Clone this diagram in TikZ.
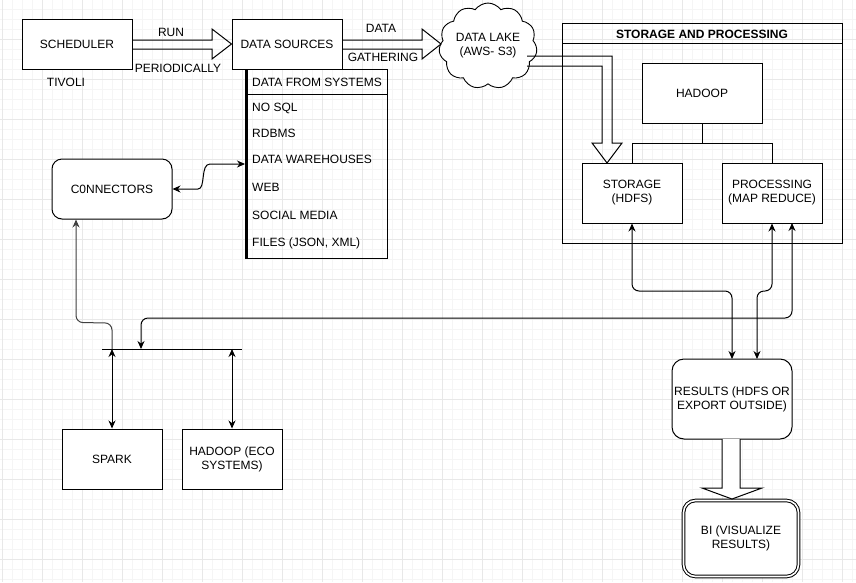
\documentclass[tikz,border=0pt]{standalone}
\usepackage{fontspec}
\setmainfont{Liberation Sans}
\usetikzlibrary{arrows.meta,shapes.symbols,calc}
\definecolor{gridminor}{HTML}{F5F5F5}
\definecolor{gridmajor}{HTML}{E8E8E8}
\begin{document}
\begin{tikzpicture}[x=1pt,y=-1pt,
  every node/.style={font=\fontsize{12}{14}\selectfont, inner sep=0pt, align=center},
  box/.style={draw, line width=1pt, fill=white},
  rbox/.style={draw, line width=1pt, fill=white, rounded corners=10pt},
  fat/.style={draw, line width=1pt, line join=miter},
  link/.style={draw, line width=1pt, rounded corners=7pt},
  tip/.style={-{Stealth[length=8pt,width=7pt]}},
  tips/.style={{Stealth[length=8pt,width=7pt]}-{Stealth[length=8pt,width=7pt]}},
  lbl/.style={font=\fontsize{12}{14}\selectfont}
]
\useasboundingbox (0,0) rectangle (856,582);
\fill[white] (0,0) rectangle (856,582);
% grid
\foreach \x in {2,12,...,852} \draw[gridminor, line width=0.6pt] (\x,0) -- (\x,582);
\foreach \y in {9,19,...,579} \draw[gridminor, line width=0.6pt] (0,\y) -- (856,\y);
\foreach \x in {2,42,...,842} \draw[gridmajor, line width=0.6pt] (\x,0) -- (\x,582);
\foreach \y in {39,79,...,559} \draw[gridmajor, line width=0.6pt] (0,\y) -- (856,\y);

% top row
\node[box, minimum width=110pt, minimum height=50pt] (sched) at (77,44) {SCHEDULER};
\node[box, minimum width=110pt, minimum height=50pt] (dsrc) at (287,44) {DATA SOURCES};
\node[lbl] (tivoli) at (66,82) {TIVOLI};
\node[lbl] (run) at (171,32) {RUN};
\node[lbl] (period) at (178,68) {PERIODICALLY};
\node[lbl] (data) at (381,28) {DATA};
\node[lbl] (gather) at (383,57) {GATHERING};

% fat arrow scheduler -> data sources
\draw[fat] (sched.east |- 0,40) -- (212,40) -- (212,29) -- (dsrc.west) -- (212,59) -- (212,49) -- (sched.east |- 0,49);

% cloud
\node[draw, line width=0.9pt, fill=white, cloud, cloud puffs=11, cloud puff arc=110, aspect=1.2,
      minimum width=76pt, minimum height=62pt] (lake) at (488,46) {DATA LAKE\\(AWS- S3)};
% fat arrow data sources -> lake
\draw[fat] (dsrc.east |- 0,40) -- (422,40) -- (422,29) -- (441,44) -- (422,59) -- (422,49) -- (dsrc.east |- 0,49);

% list of data systems
\node[draw, line width=1pt, minimum width=142pt, minimum height=189pt, anchor=north west] (list) at (245,69) {};
\draw[line width=1pt] (245,94) -- (387,94);
\draw[line width=3pt] ($(list.north west)+(1,0)$) -- ($(list.south west)+(1,0)$);
\node[anchor=west] (l0) at (252,82) {DATA FROM SYSTEMS};
\node[anchor=west] (l1) at (252,108) {NO SQL};
\node[anchor=west] (l2) at (252,133) {RDBMS};
\node[anchor=west] (l3) at (252,159) {DATA WAREHOUSES};
\node[anchor=west] (l4) at (252,187) {WEB};
\node[anchor=west] (l5) at (252,215) {SOCIAL MEDIA};
\node[anchor=west] (l6) at (252,243) {FILES (JSON, XML)};
\coordinate (listin) at (245,164);

% storage and processing container
\node[draw, line width=1pt, minimum width=280pt, minimum height=220pt] (sp) at (702,133) {};
\draw[line width=1pt] (562,43) -- (842,43);
\node[font=\fontsize{12}{14}\selectfont\bfseries] (sptitle) at (702,34) {STORAGE AND PROCESSING};
\node[box, minimum width=120pt, minimum height=60pt] (hadoop) at (702,93) {HADOOP};
\node[box, minimum width=100pt, minimum height=60pt] (stor) at (632,193) {STORAGE\\(HDFS)};
\node[box, minimum width=100pt, minimum height=60pt] (proc) at (772,193) {PROCESSING\\(MAP REDUCE)};
\coordinate (hj) at (702,143);
\draw[line width=1pt] (hadoop.south) -- (hj);
\draw[line width=1pt] (stor.north) -- (stor.north |- hj) -- (proc.north |- hj) -- (proc.north);

% L-shaped fat arrow lake -> storage
\draw[fat] (527,56) -- (612,56) -- (612,143) -- (622,143) -- (607,163) -- (592,143) -- (602,143) -- (602,66) -- (527,66);

% connectors
\node[rbox, minimum width=120pt, minimum height=60pt] (conn) at (112,189) {C0NNECTORS};
\draw[line width=1pt, tips] (conn.east) -- (198,189) .. controls (206,189) and (200,164) .. (210,164) -- (listin);

% spark / hadoop eco
\node[box, minimum width=100pt, minimum height=60pt] (spark) at (112,459) {SPARK};
\node[box, minimum width=100pt, minimum height=60pt] (heco) at (232,459) {HADOOP (ECO\\SYSTEMS)};
\coordinate (barL) at (102,349);
\coordinate (barR) at (242,349);
\coordinate (sj) at (112,349);
\coordinate (hj2) at (232,349);
\coordinate (pj) at (141,349);
\draw[line width=1pt] (barL) -- (barR);
\draw[line width=1pt, tips] (sj) -- (spark.north);
\draw[line width=1pt, tips] (hj2) -- (heco.north);
\draw[link, black!75, {Stealth[length=8pt,width=7pt]}-] ([xshift=-36pt]conn.south) -- ++(0,103) -- (112,323) -- (sj);

% results and BI
\node[rbox, rounded corners=12pt, minimum width=120pt, minimum height=80pt] (res) at (732,399) {RESULTS (HDFS OR\\EXPORT OUTSIDE)};
\node[draw, line width=1pt, fill=white, rounded corners=12pt, double, double distance=1.6pt,
      minimum width=115pt, minimum height=76pt] (bi) at (741,538.5) {BI (VISUALIZE\\RESULTS)};
\draw[link, tips] (stor.south) -- (632,291) -- (732,291) -- (732,359);
\draw[link, tips] (proc.south) -- (772,291) -- (757,291) -- (757,359);
\draw[link, tips] (792,223) -- (792,318) -- (141,318) -- (pj);

% fat arrow results -> BI
\draw[fat, fill=white] (722,439) -- (722,488) -- (702,488) -- (732,499) -- (762,488) -- (740,488) -- (740,439);
\end{tikzpicture}
\end{document}
